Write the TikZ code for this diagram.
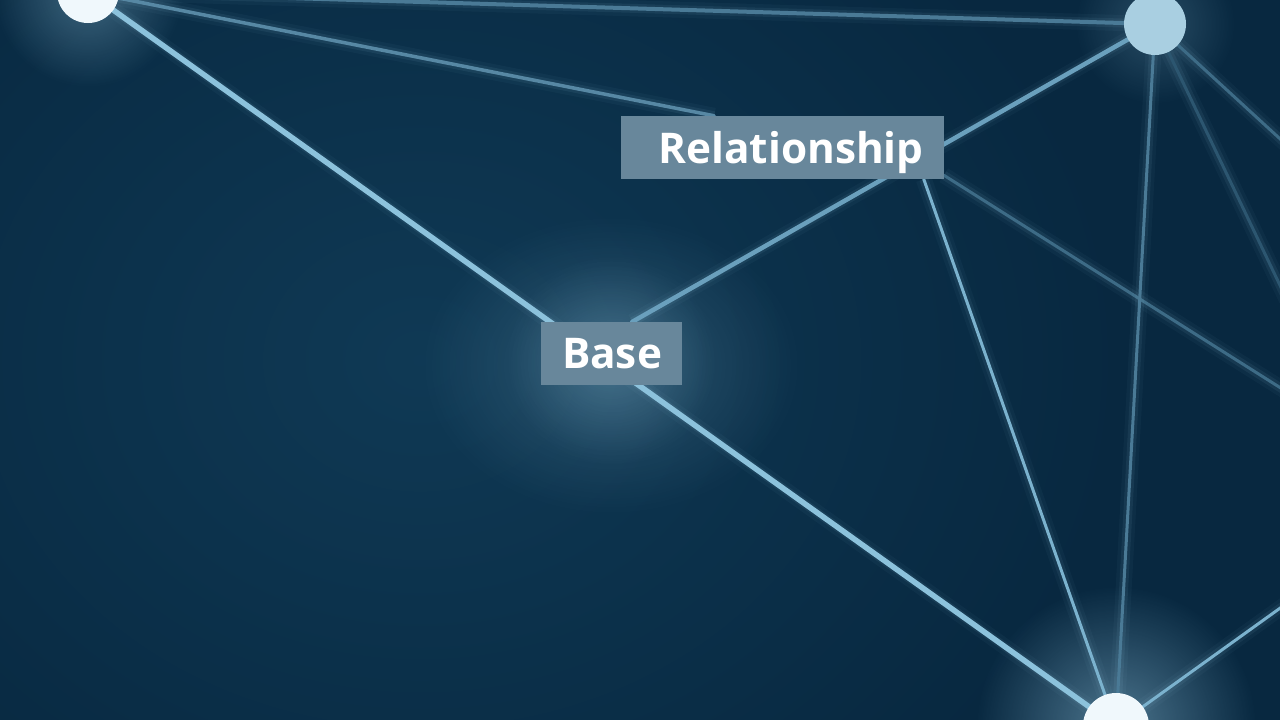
\documentclass[tikz,border=0pt]{standalone}
\usepackage{fontspec}
\setmainfont{Open Sans}
\usetikzlibrary{fadings}
\tikzfading[name=softglow, inner color=transparent!0, outer color=transparent!100]
\definecolor{bgbase}{HTML}{082840}
\definecolor{bglight}{HTML}{113D59}
\definecolor{glowc}{HTML}{9FD3EC}
\definecolor{boxc}{HTML}{68879B}
\definecolor{mainln}{HTML}{8CC2DC}
\definecolor{midln}{HTML}{6AA0BD}
\definecolor{topln}{HTML}{4A7A96}
\definecolor{dimln}{HTML}{3D6B86}
\definecolor{faintln}{HTML}{2C5670}
\definecolor{brln}{HTML}{7BB2CE}
\definecolor{nodew}{HTML}{F0F8FC}
\definecolor{nodeb}{HTML}{A9CFE1}
\pgfdeclarelayer{back}
\pgfdeclarelayer{lines}
\pgfsetlayers{back,lines,main}
\tikzset{
  hub/.style={circle, inner sep=0pt, minimum size=#1},
  label box/.style={rectangle, fill=boxc, text=white, inner ysep=0pt,
    font=\fontsize{42.3}{50}\selectfont\bfseries},
  halo/.style={line cap=round,
    preaction={draw=glowc, line width=16pt, opacity=0.04},
    preaction={draw=glowc, line width=9pt, opacity=0.07}},
  ln/.style={line cap=round, draw=#1}
}
\begin{document}
\begin{tikzpicture}[x=1pt,y=-1pt]
\useasboundingbox (0,0) rectangle (1280,720);
\clip (0,0) rectangle (1280,720);

% nodes
\node[hub=62pt] (tl) at (88,-8) {};
\node[hub=62pt] (tr) at (1155,24) {};
\node[hub=66pt] (br) at (1116,726) {};
\node[label box, inner xsep=20pt, text height=47pt, text depth=16pt] (rel) at (782.5,147.5) {\hspace*{17pt}Relationship};
\node[label box, inner xsep=19.5pt, text height=46pt, text depth=17pt] (base) at (611,353.5) {\hspace*{2pt}Base};

\coordinate (relT) at ([xshift=93pt]rel.north west);
\coordinate (relB) at ([xshift=-20pt]rel.south east);
\coordinate (relR) at ([yshift=4pt]rel.south east);
\coordinate (baseT) at ([xshift=92pt]base.north west);
\coordinate (e1) at (1295,397);
\coordinate (e2) at (1290,148);
\coordinate (e3) at (1287,300);
\coordinate (e4) at (1290,601);

\begin{pgfonlayer}{back}
  \fill[bgbase] (0,0) rectangle (1280,720);
  \fill[bglight, opacity=0.85, path fading=softglow] (420,360) ellipse (720 and 600);
  \fill[glowc, opacity=0.22, path fading=softglow] (611,365) ellipse (190 and 150);
  \fill[glowc, opacity=0.22, path fading=softglow] (611,360) circle (105);
  \fill[glowc, opacity=0.35, path fading=softglow] (88,-8) circle (95);
  \fill[glowc, opacity=0.22, path fading=softglow] (1155,24) circle (80);
  \fill[glowc, opacity=0.45, path fading=softglow] (1116,726) circle (140);
\end{pgfonlayer}

\begin{pgfonlayer}{lines}
  \draw[halo, ln=topln, line width=4pt] (tl) -- (tr);
  \draw[halo, ln=topln!80!mainln, line width=3.5pt] (tl) -- (relT);
  \draw[halo, ln=mainln, line width=5.5pt] (tl) -- (br);
  \draw[halo, ln=midln, line width=4.5pt] (baseT) -- (tr);
  \draw[halo, ln=brln, line width=3pt] (relB) -- (br);
  \draw[halo, ln=dimln, line width=3pt] (relR) -- (e1);
  \draw[halo, ln=topln, line width=3pt] (tr) -- (br);
  \draw[halo, ln=dimln, line width=3pt] (tr) -- (e2);
  \draw[halo, ln=faintln, line width=3pt] (tr) -- (e3);
  \draw[halo, ln=brln, line width=3pt] (br) -- (e4);
\end{pgfonlayer}

\fill[nodew] (tl) circle (31);
\fill[nodeb] (tr) circle (31);
\fill[nodew] (br) circle (33);
\end{tikzpicture}
\end{document}
